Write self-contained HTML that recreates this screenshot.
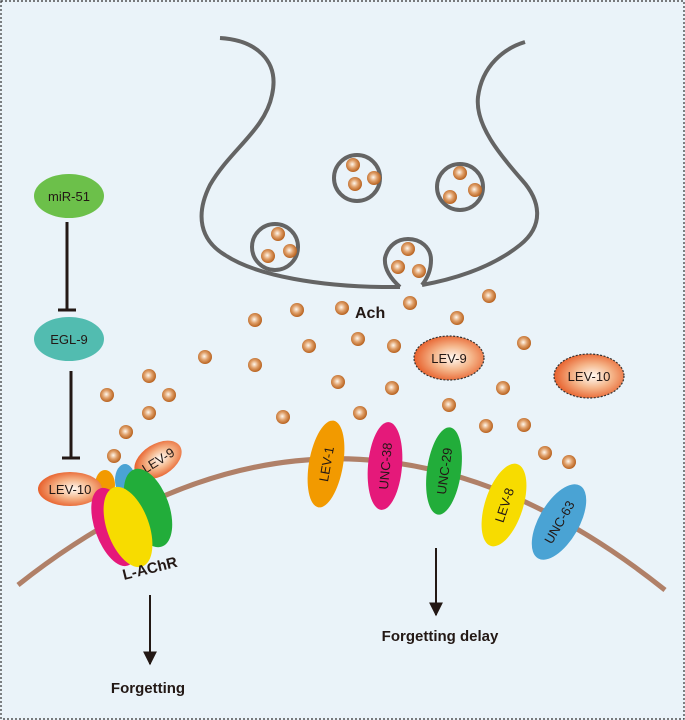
<!DOCTYPE html>
<html><head><meta charset="utf-8"><style>
html,body{margin:0;padding:0;background:#eaf3f9;}
svg{display:block;font-family:"Liberation Sans",sans-serif;}
</style></head><body>
<svg width="685" height="720" viewBox="0 0 685 720" xmlns="http://www.w3.org/2000/svg">
<defs>
<radialGradient id="dot" cx="0.45" cy="0.45" r="0.55"><stop offset="0" stop-color="#fff8ee"/><stop offset="0.5" stop-color="#e0a06a"/><stop offset="1" stop-color="#b8621f"/></radialGradient>
<radialGradient id="org" cx="0.55" cy="0.5" r="0.6"><stop offset="0" stop-color="#fffaf4"/><stop offset="0.45" stop-color="#f5b78c"/><stop offset="1" stop-color="#e5501a"/></radialGradient>
<marker id="ar" viewBox="0 0 10 10" refX="9" refY="5" markerWidth="7" markerHeight="7" orient="auto"><path d="M0,0 L10,5 L0,10 z" fill="#231815"/></marker>
</defs>
<rect x="1" y="1" width="683" height="718" fill="#eaf3f9" stroke="#333" stroke-dasharray="2,2" stroke-width="1.2"/>
<g fill="none" stroke="#646464" stroke-width="4">
<path d="M220,38 C255,40 280,60 272,95 C265,130 230,150 210,185 C195,215 200,240 225,255 C255,275 320,288 400,287"/>
<path d="M400,287 C390,278 384,268 385,258 C388,245 398,239 408,239 C420,239 431,247 431,260 C431,272 426,280 422,285"/>
<path d="M422,285 C460,278 495,265 520,245 C545,225 540,200 522,180 C500,155 475,125 478,97 C482,65 505,48 525,42"/>
<circle cx="275" cy="247" r="23"/>
<circle cx="357" cy="178" r="23"/>
<circle cx="460" cy="187" r="23"/>
</g>
<path d="M18,585 Q340,330 665,590" fill="none" stroke="#b08068" stroke-width="5"/>
<g fill="url(#dot)">
<circle cx="278" cy="234" r="7"/><circle cx="268" cy="256" r="7"/><circle cx="290" cy="251" r="7"/>
<circle cx="353" cy="165" r="7"/><circle cx="355" cy="184" r="7"/><circle cx="374" cy="178" r="7"/>
<circle cx="460" cy="173" r="7"/><circle cx="450" cy="197" r="7"/><circle cx="475" cy="190" r="7"/>
<circle cx="408" cy="249" r="7"/><circle cx="398" cy="267" r="7"/><circle cx="419" cy="271" r="7"/>
<circle cx="410" cy="303" r="7"/><circle cx="489" cy="296" r="7"/><circle cx="255" cy="320" r="7"/>
<circle cx="297" cy="310" r="7"/><circle cx="342" cy="308" r="7"/><circle cx="457" cy="318" r="7"/>
<circle cx="309" cy="346" r="7"/><circle cx="358" cy="339" r="7"/><circle cx="394" cy="346" r="7"/>
<circle cx="205" cy="357" r="7"/><circle cx="255" cy="365" r="7"/><circle cx="149" cy="376" r="7"/>
<circle cx="107" cy="395" r="7"/><circle cx="169" cy="395" r="7"/><circle cx="149" cy="413" r="7"/>
<circle cx="126" cy="432" r="7"/><circle cx="114" cy="456" r="7"/><circle cx="338" cy="382" r="7"/>
<circle cx="392" cy="388" r="7"/><circle cx="360" cy="413" r="7"/><circle cx="283" cy="417" r="7"/>
<circle cx="449" cy="405" r="7"/><circle cx="524" cy="343" r="7"/><circle cx="503" cy="388" r="7"/>
<circle cx="486" cy="426" r="7"/><circle cx="524" cy="425" r="7"/><circle cx="545" cy="453" r="7"/>
<circle cx="569" cy="462" r="7"/>
</g>
<text x="355" y="318" font-size="16" font-weight="bold" fill="#231815">Ach</text>
<ellipse cx="449" cy="358" rx="35" ry="22" fill="url(#org)" stroke="#333" stroke-dasharray="2,1.5" stroke-width="1.2"/>
<text x="449" y="363" font-size="13" text-anchor="middle" fill="#231815">LEV-9</text>
<ellipse cx="589" cy="376" rx="35" ry="22" fill="url(#org)" stroke="#333" stroke-dasharray="2,1.5" stroke-width="1.2"/>
<text x="589" y="381" font-size="13" text-anchor="middle" fill="#231815">LEV-10</text>
<g font-size="13" fill="#231815" text-anchor="middle">
<g transform="translate(326,464) rotate(10)"><ellipse rx="17" ry="44" fill="#f29a00"/><text transform="rotate(-90)" y="5">LEV-1</text></g>
<g transform="translate(385,466) rotate(5)"><ellipse rx="17" ry="44" fill="#e5197a"/><text transform="rotate(-90)" y="5">UNC-38</text></g>
<g transform="translate(444,471) rotate(8)"><ellipse rx="17" ry="44" fill="#22ad3a"/><text transform="rotate(-90)" y="5">UNC-29</text></g>
<g transform="translate(504,505) rotate(18)"><ellipse rx="19" ry="43" fill="#f7dc00"/><text transform="rotate(-90)" y="5">LEV-8</text></g>
<g transform="translate(559,522) rotate(30)"><ellipse rx="20" ry="42" fill="#4aa3d4"/><text transform="rotate(-90)" y="5">UNC-63</text></g>
</g>
<ellipse cx="105" cy="485" rx="10" ry="15" fill="#f29a00"/>
<ellipse cx="125" cy="480" rx="10" ry="16" fill="#4aa3d4"/>
<ellipse cx="70" cy="489" rx="32" ry="17" fill="url(#org)"/>
<text x="70" y="494" font-size="13" text-anchor="middle" fill="#231815">LEV-10</text>
<g transform="translate(158,460) rotate(-32)"><ellipse rx="26" ry="16" fill="url(#org)"/><text y="5" font-size="13" text-anchor="middle" fill="#231815">LEV-9</text></g>
<ellipse cx="148" cy="508" rx="21" ry="41" fill="#22ad3a" transform="rotate(-20 148 508)"/>
<ellipse cx="114" cy="527" rx="19" ry="41" fill="#e5197a" transform="rotate(-20 114 527)"/>
<ellipse cx="128" cy="527" rx="21" ry="42" fill="#f7dc00" transform="rotate(-20 128 527)"/>
<text x="0" y="0" font-size="15" font-weight="bold" fill="#231815" transform="translate(124,580) rotate(-14)">L-AChR</text>
<ellipse cx="69" cy="196" rx="35" ry="22" fill="#6cc04a"/>
<text x="69" y="201" font-size="13" text-anchor="middle" fill="#231815">miR-51</text>
<ellipse cx="69" cy="339" rx="35" ry="22" fill="#52bcb0"/>
<text x="69" y="344" font-size="13" text-anchor="middle" fill="#231815">EGL-9</text>
<g stroke="#231815" stroke-width="3">
<line x1="67" y1="222" x2="67" y2="310"/><line x1="58" y1="310" x2="76" y2="310"/>
<line x1="71" y1="371" x2="71" y2="458"/><line x1="62" y1="458" x2="80" y2="458"/>
<line x1="150" y1="595" x2="150" y2="664" stroke-width="2" marker-end="url(#ar)"/>
<line x1="436" y1="548" x2="436" y2="615" stroke-width="2" marker-end="url(#ar)"/>
</g>
<text x="148" y="693" font-size="15" font-weight="bold" text-anchor="middle" fill="#231815">Forgetting</text>
<text x="440" y="641" font-size="15" font-weight="bold" text-anchor="middle" fill="#231815">Forgetting delay</text>
</svg>
</body></html>
